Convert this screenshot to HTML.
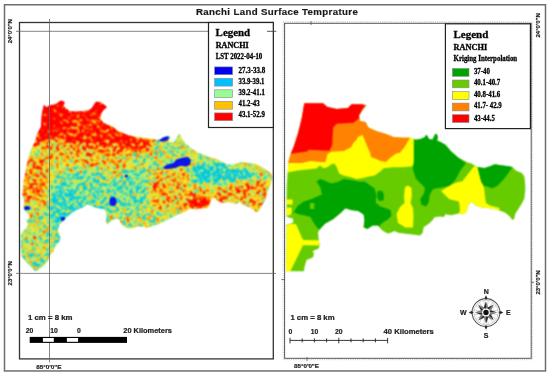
<!DOCTYPE html>
<html><head><meta charset="utf-8"><title>Ranchi Land Surface Temprature</title>
<style>
html,body{margin:0;padding:0;background:#fff;width:550px;height:377px;overflow:hidden}
svg{display:block}
.s{font-family:"Liberation Sans",Arial,sans-serif;font-weight:bold;stroke:#222;stroke-width:0.2px}
.t{font-family:"Liberation Serif","Times New Roman",serif;font-weight:bold;stroke:#000;stroke-width:0.28px}
</style></head><body>
<svg width="550" height="377" viewBox="0 0 550 377">
<rect x="0" y="0" width="550" height="377" fill="#fff"/>
<rect x="4.5" y="4.75" width="541" height="366.2" fill="none" stroke="#6e6e6e" stroke-width="1.5"/>
<text class="s" x="196" y="15.4" font-size="9.7" fill="#1a1a1a" textLength="161.8" lengthAdjust="spacing">Ranchi Land Surface Temprature</text>
<g id="leftmap">
<defs>
<clipPath id="lclip"><polygon points="43.7,105.1 45.2,105.8 46.6,107.3 49.5,105.1 53.9,104.4 56.8,103.6 59,101.5 61.2,100.4 64.1,101.5 64.8,102.9 63.4,105.8 66.3,108.7 69.9,110.9 75.7,111.6 83,110.9 88.8,110.2 91.7,108 94.6,103.6 96.1,101.5 100.5,102.2 104.8,105.1 107,107.3 103.4,110.2 101.2,113.8 100.5,118.9 103.4,122.5 107.7,124.7 112.1,126.2 116.7,129.9 124.1,133.6 133.4,136.4 140.8,137.3 148.2,138.6 155.7,139.2 159.4,140 163,137.5 168.6,135.5 170.5,137.3 168.6,142 174.2,142 177.9,135.5 179.8,133.6 181.6,138.2 185.6,143.6 191.1,148.2 198.6,152.8 207.8,156.5 217.1,159.3 226.4,164 232,164.9 237.5,163 241.2,162.1 250.5,163 256.1,164 261.6,166.7 267.2,170.5 270.9,173.2 272.8,177 271.8,180.8 270,185.4 267.2,192.8 265.3,200.3 261.6,205.8 258.8,211.4 256,212.3 253.3,209.5 248.6,206.7 243,204.9 239.4,202.1 235.7,204 228.2,202.1 222.7,203 218,201.2 214.3,197.5 211.5,199.3 209.7,204.9 207.8,207.7 202.3,208.6 194.8,209.5 189.3,208.6 185.6,211.4 181.9,213.2 179.8,213.6 175.6,215.7 167.1,220 158.6,224.2 148,227.4 137.4,226.3 135,227.8 130.6,228.5 126.3,227.8 121.9,224.9 119,219.1 114.6,219.1 111,221.3 107.4,224.2 105.2,221.3 106.6,217.6 105.9,211.8 103,208.9 97.2,208.2 91.4,206 87,204.5 82.6,207.5 75.4,210.4 69.5,214.7 65.2,219.1 60.8,223.5 59.5,224.8 57.7,230.4 59.5,234.1 60.5,237.8 59.5,241.5 57.7,243.4 54.9,247.1 54,250.8 50.2,254.5 48.4,260 44.7,264.7 40,268.5 37.3,270.6 34.5,271 31.7,267.5 26.1,262 21.5,256.4 20.6,247.1 20.6,236 22.4,231.3 26.1,228.6 28,224.8 26.1,221.1 29.8,217.4 28,213.7 24.3,210 23.5,207.3 24.5,200.9 22.4,194.5 23.5,181.8 25.6,171.2 27.7,160.6 30.5,150.5 34.8,142 37.6,132.7 40.8,127 41.5,116.7 42.3,110.9"/></clipPath>
<filter id="jet" x="10" y="80" width="275" height="205" filterUnits="userSpaceOnUse" color-interpolation-filters="sRGB">
  <feGaussianBlur in="SourceGraphic" stdDeviation="3" result="field"/>
  <feTurbulence type="fractalNoise" baseFrequency="0.3" numOctaves="3" seed="7" result="n0"/>
  <feColorMatrix in="n0" type="matrix" values="1 0 0 0 0  1 0 0 0 0  1 0 0 0 0  0 0 0 0 1" result="noise"/>
  <feComposite in="field" in2="noise" operator="arithmetic" k1="0" k2="1" k3="1.1" k4="-0.55" result="sum"/>
  <feComponentTransfer in="sum" result="col">
    <feFuncR type="discrete" tableValues="0 0 0 0 0 0 0 0.588 0.588 0.588 0.98 0.98 0.98 1 1 1 1 1 1 1"/>
    <feFuncG type="discrete" tableValues="0.784 0.784 0.784 0.784 0.784 0.784 0.784 0.941 0.941 0.941 0.902 0.902 0.902 0.627 0.627 0 0 0 0 0"/>
    <feFuncB type="discrete" tableValues="0.882 0.882 0.882 0.882 0.882 0.882 0.882 0.549 0.549 0.549 0.157 0.157 0.157 0 0 0 0 0 0 0"/>
    <feFuncA type="discrete" tableValues="1"/>
  </feComponentTransfer>
  <feConvolveMatrix in="col" order="3" kernelMatrix="1 2 1 2 4 2 1 2 1" divisor="16" edgeMode="duplicate"/>
</filter>
<filter id="soft" x="-5%" y="-5%" width="110%" height="110%" color-interpolation-filters="sRGB"><feConvolveMatrix order="3" kernelMatrix="1 2 1 2 4 2 1 2 1" divisor="16" edgeMode="none"/></filter>
<filter id="bl1" x="-20%" y="-20%" width="140%" height="140%"><feGaussianBlur stdDeviation="0.6"/></filter>
</defs>
<g filter="url(#soft)"><g clip-path="url(#lclip)">
<g filter="url(#jet)">
<rect x="10" y="80" width="275" height="205" fill="rgb(128,128,128)"/>
<polygon points="20,80 115,80 112,122 100,130 80,134 60,138 40,141 20,142" fill="rgb(236,236,236)"/>
<polygon points="72,112 112,115 128,132 150,138 152,150 140,156 115,156 95,152 75,146 60,140" fill="rgb(210,210,210)"/>
<polygon points="28,141 125,148 150,158 125,168 60,168 28,166" fill="rgb(162,162,162)"/>
<ellipse cx="36" cy="153" rx="7" ry="4" fill="rgb(115,115,115)"/>
<polygon points="18,158 48,158 50,190 47,204 18,206" fill="rgb(173,173,173)"/>
<polygon points="48,160 80,160 80,176 48,178" fill="rgb(133,133,133)"/>
<polygon points="75,170 100,169 125,170 150,170 150,200 140,215 112,218 95,214 75,218 50,222 50,180 65,177" fill="rgb(100,100,100)"/>
<ellipse cx="114" cy="175" rx="8" ry="5" fill="rgb(153,153,153)"/>
<polygon points="125,153 165,150 190,150 205,158 200,166 160,168 130,166" fill="rgb(122,122,122)"/>
<polygon points="150,170 190,168 190,211 150,212" fill="rgb(158,158,158)"/>
<ellipse cx="157" cy="188.5" rx="6" ry="3" fill="rgb(217,217,217)"/>
<polygon points="110,212 175,210 175,232 110,232" fill="rgb(128,128,128)"/>
<polygon points="182,143 205,150 205,166 185,166" fill="rgb(128,128,128)"/>
<polygon points="192,166 220,163 253,166 253,186 220,187 192,184" fill="rgb(68,68,68)"/>
<polygon points="229,160 275,162 275,170 229,168" fill="rgb(140,140,140)"/>
<polygon points="253,169 275,170 275,181 253,181" fill="rgb(120,120,120)"/>
<polygon points="185,184 275,182 275,200 185,200" fill="rgb(156,156,156)"/>
<polygon points="235,180 265,181 265,192 235,192" fill="rgb(178,178,178)"/>
<polygon points="215,192 275,192 275,215 215,215" fill="rgb(158,158,158)"/>
<ellipse cx="199" cy="204" rx="12" ry="6" fill="rgb(235,235,235)"/>
<ellipse cx="221" cy="200" rx="6" ry="4" fill="rgb(214,214,214)"/>
<polygon points="18,190 47,190 47,203 18,203" fill="rgb(173,173,173)"/>
<polygon points="48,188 80,188 80,224 60,226 48,222" fill="rgb(84,84,84)"/>
<polygon points="18,203 49,203 49,235 18,235" fill="rgb(130,130,130)"/>
<polygon points="18,235 48,235 48,262 18,262" fill="rgb(126,126,126)"/>
<polygon points="49,224 65,224 65,248 49,248" fill="rgb(107,107,107)"/>
<polygon points="25,261 46,258 46,275 25,275" fill="rgb(104,104,104)"/>
</g>
<!-- blue blobs -->
<g fill="#0a14e6" filter="url(#bl1)">
<polygon points="163.3,167.3 167.7,164.4 173.5,162.9 176.4,159.4 182.3,157.7 188.1,157.1 191,160 190.1,164.4 186.6,166.4 180.8,165.8 175,168.1 169.2,168.7 164.8,169.3"/>
<polygon points="157.5,138.1 160.4,136.7 166.2,136.1 169.2,137.2 167.7,140.2 163.3,141.6 159,141"/>
<ellipse cx="113" cy="201.5" rx="3.5" ry="4.5"/>
<ellipse cx="126.3" cy="176" rx="1.6" ry="1.6"/>
<ellipse cx="27" cy="208" rx="3" ry="2"/>
<ellipse cx="63" cy="219" rx="2.5" ry="2"/>
</g>
</g>
</g></g>


<rect x="19.5" y="22.5" width="253.8" height="336.4" fill="none" stroke="#333" stroke-width="1.3"/>
<g stroke="#666" stroke-width="0.8"><line x1="49.5" y1="19" x2="49.5" y2="362.5"/><line x1="16" y1="31.3" x2="208.5" y2="31.3"/><line x1="16" y1="273.4" x2="276" y2="273.4"/></g>
<text class="s" font-size="6.2" fill="#222" transform="translate(12.4,31.2) rotate(-90)" text-anchor="middle" textLength="24.2" lengthAdjust="spacingAndGlyphs">24°0'0"N</text>
<text class="s" font-size="6.2" fill="#222" transform="translate(12.4,273.3) rotate(-90)" text-anchor="middle" textLength="24.2" lengthAdjust="spacingAndGlyphs">23°0'0"N</text>
<text class="s" x="48.85" y="368.6" font-size="6.2" fill="#222" text-anchor="middle" textLength="25.4" lengthAdjust="spacingAndGlyphs">85°0'0"E</text>
<rect x="208.5" y="22.5" width="64.8" height="105" fill="#fff" stroke="#222" stroke-width="1.2"/>
<line x1="267" y1="31.3" x2="276.3" y2="31.3" stroke="#444" stroke-width="0.9"/>
<text class="t" x="215.6" y="36.0" font-size="10.8" fill="#000" textLength="34.6" lengthAdjust="spacingAndGlyphs">Legend</text>
<text class="t" x="215.7" y="48.0" font-size="7.8" fill="#000" textLength="33.0" lengthAdjust="spacingAndGlyphs">RANCHI</text>
<text class="t" x="215.7" y="58.7" font-size="7.35" fill="#000" textLength="46.6" lengthAdjust="spacingAndGlyphs">LST 2022-04-10</text>
<g stroke="#8a8a8a" stroke-width="0.6"><rect x="214.6" y="66.9" width="18" height="7.8" fill="#0000f0"/><rect x="214.6" y="78.3" width="18" height="7.8" fill="#00bfff"/><rect x="214.6" y="89.8" width="18" height="7.8" fill="#98fb98"/><rect x="214.6" y="101.4" width="18" height="7.8" fill="#ffc000"/><rect x="214.6" y="112.9" width="18" height="7.8" fill="#ff0000"/></g>
<text class="t" x="238.5" y="72.8" font-size="7.4" fill="#000" textLength="26.8" lengthAdjust="spacingAndGlyphs">27.3-33.8</text>
<text class="t" x="238.5" y="83.9" font-size="7.4" fill="#000" textLength="26.0" lengthAdjust="spacingAndGlyphs">33.9-39.1</text>
<text class="t" x="238.5" y="95.0" font-size="7.4" fill="#000" textLength="26.4" lengthAdjust="spacingAndGlyphs">39.2-41.1</text>
<text class="t" x="238.5" y="106.2" font-size="7.4" fill="#000" textLength="21.2" lengthAdjust="spacingAndGlyphs">41.2-43</text>
<text class="t" x="238.5" y="117.3" font-size="7.4" fill="#000" textLength="26.4" lengthAdjust="spacingAndGlyphs">43.1-52.9</text>
<text class="s" x="28.0" y="319.6" font-size="6.8" fill="#222" textLength="44.5" lengthAdjust="spacingAndGlyphs">1 cm = 8 km</text>
<text class="s" x="29.5" y="333.1" font-size="6.8" fill="#222" text-anchor="middle">20</text>
<text class="s" x="54.0" y="333.1" font-size="6.8" fill="#222" text-anchor="middle">10</text>
<text class="s" x="78.8" y="333.1" font-size="6.8" fill="#222" text-anchor="middle">0</text>
<text class="s" x="123.3" y="333.1" font-size="6.8" fill="#222" textLength="48.6" lengthAdjust="spacingAndGlyphs">20 Kilometers</text>
<rect x="29.7" y="336.9" width="97.3" height="6.0" fill="#000"/>
<rect x="42.9" y="338.0" width="10.9" height="3.8" fill="#fff"/>
<rect x="66.9" y="338.0" width="11.2" height="3.8" fill="#fff"/>
<g id="rightmap">
<defs>
<clipPath id="rclip"><polygon points="304.3,103.3 310.8,103.3 322.9,103.3 327.5,107.1 336.8,108.9 348,108 351.6,104.3 361,104.3 366.5,105.2 362.8,109.8 359.1,115.4 360,121 365.6,122 368.3,127.6 376.7,131.3 386,134.1 393.4,136.9 402.7,137.8 410.1,137.8 415.7,139.7 421.2,138.8 424.9,136.9 425.9,135 427.7,136 428.6,138.8 432.4,139.7 434.2,136 435.1,134.1 437,134.1 437.9,137.8 437,140.6 441.6,142.5 445.6,144.8 451.1,151.3 458.6,157.8 467.8,162.5 471.5,163.4 477.1,167.1 484.5,168 490.1,166.2 494.7,164.3 501.2,165.3 508.6,166.2 512.4,167.1 516.1,170.8 521.6,172.7 524.4,176.4 525.3,185.7 525.3,189.3 524.4,198.6 521.6,204.1 517.9,209.7 515.1,214.3 514.2,219 512.4,219.9 509.6,216.2 504.9,212.5 499.4,210.6 495.7,209.2 488,208 481.5,207.6 475.5,205.5 472,201.8 468.8,204.1 466,212.8 462.3,214.3 458.6,213.4 451.1,215.2 445.6,214.3 443.7,217.1 440,216.4 434.5,217.3 432.7,220 429.1,223.6 423.6,227.3 422.7,232.7 420,235.5 412.7,234.5 403.6,233.6 398.2,232.7 394.5,230.9 390.9,232.7 387.3,233.6 381.8,230 378.2,225.5 372.7,225.5 367.3,229.1 363.6,227.3 364.5,220 363.6,214.5 358.2,210.9 350.9,210 345.5,208.2 340,213.6 333,219.2 325.3,223.5 320.9,227.9 318,232.3 318.7,239.6 319.2,242.7 319.8,245.3 318.5,248.6 312.5,251.3 313.9,253.3 313.2,257.3 306.6,260 304.6,266.6 303.9,271.2 286,271.2 286.6,245 286.6,225 293.5,222.5 293,218.5 286.6,216.5 286.6,200 286.7,187.1 287.6,172.3 288.6,161.1 290.6,154 293.6,147 297.8,134 301.6,119.1"/></clipPath>
</defs>
<g filter="url(#soft)"><g clip-path="url(#rclip)">
<rect x="283" y="98" width="245" height="176" fill="#66cc00"/>
<!-- yellow 1 -->
<polygon fill="#ffff00" points="283,135 416,125 414.5,164.5 410.9,166.4 401.8,167.3 392.7,167.3 383.6,168.2 380,171.8 374.5,175.5 369.1,176.4 361.8,178.2 356.4,179.1 350.9,177.3 343.6,175.5 339.1,173.6 337.3,168.2 334.5,163.6 330.9,164.5 327.3,167.3 323.6,168.2 320,165.5 316.4,168.6 307.1,169.5 297.8,170.4 288.6,172.3 283,172.3"/>
<!-- orange -->
<polygon fill="#ff8200" points="283,95 416,95 410,137.8 404.5,147.1 399.9,152.7 396.2,153.6 393.4,155.5 389.7,158.2 386,162 380.4,161 374.8,158.2 371.1,157.3 370.2,152.7 367.4,147.1 364.5,139.5 362.5,135 358.1,136.7 356.4,140 353.6,142.7 351,147.3 343.6,150.9 331,151.8 327.3,154.5 325.5,162 320.1,162 310.8,161.1 301.6,163 290.4,163 283,163"/>
<!-- red -->
<polygon fill="#ff0000" points="283,95 372,95 362,109.8 359.1,115.4 359.1,118.2 353.5,122.8 336.8,123.8 333.1,127.5 332.2,145.1 329.4,150.7 309,149.7 307.1,151.6 292.3,153.4 283,153.4"/>
<!-- yellow 2 (right) -->
<polygon fill="#ffff00" points="474.4,165.8 478,168.2 480.3,177.7 484,187.3 485,196.8 486,203 490,205.5 495,206.8 499.5,208 499.5,214 458,214 460,211 459.5,205 458.9,201.6 449.3,199.2 441,190.9 449,186 456.5,182.5 462.4,181.3 468,174"/>
<!-- yellow small patches -->
<polygon fill="#ffff00" points="405,187 408,185.5 411.5,188 411.8,196 410.5,203 413,208 413.5,216 413,227.6 405.5,227.6 398,223 396.5,214 400,207 404.5,203 404,196"/>
<polygon fill="#00a400" points="377.5,191 382,190.5 384,195 383.5,200.5 379,201 377,197"/>
<polygon fill="#ffff00" points="283,199.5 292.5,199.5 292.5,204.6 283,204.6"/>
<polygon fill="#ffff00" points="283,207.5 291.7,207.5 291.7,215.5 283,215.5"/>
<polygon fill="#ffff00" points="283,224 296,224 302,238 303.5,240 319.5,240.3 320,245.5 303,245.3 290,272 283,272"/>
<!-- dark green 1 -->
<polygon fill="#00a400" points="413.8,130 440,130 441.6,142.5 445.6,144.8 451.1,151.3 458.6,157.8 466,163.4 461,169.5 455.3,180.1 449.3,186.1 442,187.6 435,188.5 437.9,187.8 432.4,189.7 429.6,195.3 428.6,202.7 425.9,206.4 421.2,204.5 420.3,199 424,193.4 424.9,187.8 421.2,184.1 415.7,178.6 412.9,169.3 413.8,160 413.8,147.1"/>
<!-- dark green 2 -->
<polygon fill="#00a400" points="477.1,160 512.4,160 512.4,167.1 508.6,172.7 503.1,180.1 497.5,185.7 491.9,188.4 486.4,186 484.3,186.8 481.2,182.1 479.6,175.7 478,169.3"/>
<!-- dark green 3 (big left-center) -->
<polygon fill="#00a400" points="283,218 288.6,216.8 292.3,213.1 294.7,210.4 297.6,206 303.4,201.7 312.2,198.7 318.3,196 322,194.5 320.1,187.1 316.4,181.5 320,179 325.5,181 331,183.6 338.2,181.8 343.6,179 351,180 360,181.8 364.6,181.5 369,184.5 374.5,188.2 376.4,195 375.8,202.7 380.4,206.4 386,208.2 390.6,210.1 391.5,215.7 387.8,219.4 382.3,223.1 380,225 379,232 340,232 320.2,229.4 318,228.6 315.1,225 312.2,220.6 310.7,217 304.9,215.5 297.6,214 294,212 290,216 286,220"/>
<!-- light green patches in DG3 -->
<polygon fill="#66cc00" points="310,203 314.3,203 314.3,209 310,209"/>
<polygon fill="#66cc00" points="286,216 293,218 294,222 286,226"/>
</g>
</g></g>


<rect x="283.2" y="21.9" width="249.1" height="337.8" fill="none" stroke="#bbb" stroke-width="0.9" stroke-dasharray="1 1.2"/>
<rect x="284.6" y="23.3" width="246.6" height="335.0" fill="none" stroke="#555" stroke-width="1"/>
<g stroke="#555" stroke-width="0.8"><line x1="311" y1="21" x2="311" y2="25"/><line x1="307" y1="357" x2="307" y2="361"/><line x1="281.3" y1="279.6" x2="284.6" y2="279.6"/><line x1="531.5" y1="282.3" x2="534" y2="282.3"/></g>
<text class="s" font-size="6.2" fill="#222" transform="translate(540.3,25.4) rotate(-90)" text-anchor="middle" textLength="24.2" lengthAdjust="spacingAndGlyphs">24°0'0"N</text>
<text class="s" font-size="6.2" fill="#222" transform="translate(540.3,282.5) rotate(-90)" text-anchor="middle" textLength="24.2" lengthAdjust="spacingAndGlyphs">23°0'0"N</text>
<text class="s" x="306.5" y="367.8" font-size="6.2" fill="#222" text-anchor="middle" textLength="25.0" lengthAdjust="spacingAndGlyphs">85°0'0"E</text>
<rect x="445.4" y="23.8" width="85" height="104.8" fill="#fff" stroke="#222" stroke-width="1.2"/>
<text class="t" x="453.5" y="38.3" font-size="10.8" fill="#000" textLength="34.8" lengthAdjust="spacingAndGlyphs">Legend</text>
<text class="t" x="453.6" y="49.7" font-size="7.8" fill="#000" textLength="33.6" lengthAdjust="spacingAndGlyphs">RANCHI</text>
<text class="t" x="453.6" y="60.9" font-size="7.35" fill="#000" textLength="63.6" lengthAdjust="spacingAndGlyphs">Kriging Interpolation</text>
<g stroke="#8a8a8a" stroke-width="0.6"><rect x="452.4" y="68.5" width="16.6" height="7.8" fill="#00a400"/><rect x="452.4" y="80.0" width="16.6" height="7.8" fill="#66cc00"/><rect x="452.4" y="91.6" width="16.6" height="7.8" fill="#ffff00"/><rect x="452.4" y="103.1" width="16.6" height="7.8" fill="#ff8200"/><rect x="452.4" y="114.7" width="16.6" height="7.8" fill="#ff0000"/></g>
<text class="t" x="473.9" y="73.5" font-size="7.35" fill="#000" textLength="16.0" lengthAdjust="spacingAndGlyphs">37-40</text>
<text class="t" x="473.9" y="85.1" font-size="7.35" fill="#000" textLength="26.4" lengthAdjust="spacingAndGlyphs">40.1-40.7</text>
<text class="t" x="473.9" y="96.6" font-size="7.35" fill="#000" textLength="26.4" lengthAdjust="spacingAndGlyphs">40.8-41.6</text>
<text class="t" x="473.9" y="108.4" font-size="7.35" fill="#000" textLength="27.8" lengthAdjust="spacingAndGlyphs">41.7- 42.9</text>
<text class="t" x="473.9" y="120.8" font-size="7.35" fill="#000" textLength="21.0" lengthAdjust="spacingAndGlyphs">43-44.5</text>
<text class="s" x="290.4" y="319.5" font-size="6.8" fill="#222" textLength="44.2" lengthAdjust="spacingAndGlyphs">1 cm = 8 km</text>
<text class="s" x="290.5" y="334" font-size="6.8" fill="#222" text-anchor="middle">0</text>
<text class="s" x="314.6" y="334" font-size="6.8" fill="#222" text-anchor="middle">10</text>
<text class="s" x="338.8" y="334" font-size="6.8" fill="#222" text-anchor="middle">20</text>
<text class="s" x="383.6" y="334" font-size="6.8" fill="#222" textLength="50.2" lengthAdjust="spacingAndGlyphs">40 Kilometers</text>
<g stroke="#222" stroke-width="0.9"><line x1="290" y1="340.4" x2="387.6" y2="340.4"/><line x1="290" y1="337.8" x2="290" y2="343.4"/><line x1="302.2" y1="338.4" x2="302.2" y2="342.4"/><line x1="314.4" y1="338.4" x2="314.4" y2="342.4"/><line x1="326.6" y1="338.4" x2="326.6" y2="342.4"/><line x1="338.8" y1="337.8" x2="338.8" y2="343.4"/><line x1="351" y1="338.4" x2="351" y2="342.4"/><line x1="363.2" y1="338.4" x2="363.2" y2="342.4"/><line x1="375.4" y1="338.4" x2="375.4" y2="342.4"/><line x1="387.6" y1="337.8" x2="387.6" y2="343.4"/></g>
<circle cx="486.0" cy="312.5" r="13.9" fill="#fff" stroke="#5a5a5a" stroke-width="1.1"/>
<circle cx="486.0" cy="312.5" r="12.3" fill="none" stroke="#b0b0b0" stroke-width="0.6"/>
<line x1="486.78" y1="308.58" x2="488.34" y2="300.73" stroke="#9a9a9a" stroke-width="0.45"/>
<line x1="488.22" y1="309.17" x2="492.67" y2="302.52" stroke="#9a9a9a" stroke-width="0.45"/>
<line x1="489.33" y1="310.28" x2="495.98" y2="305.83" stroke="#9a9a9a" stroke-width="0.45"/>
<line x1="489.92" y1="311.72" x2="497.77" y2="310.16" stroke="#9a9a9a" stroke-width="0.45"/>
<line x1="489.92" y1="313.28" x2="497.77" y2="314.84" stroke="#9a9a9a" stroke-width="0.45"/>
<line x1="489.33" y1="314.72" x2="495.98" y2="319.17" stroke="#9a9a9a" stroke-width="0.45"/>
<line x1="488.22" y1="315.83" x2="492.67" y2="322.48" stroke="#9a9a9a" stroke-width="0.45"/>
<line x1="486.78" y1="316.42" x2="488.34" y2="324.27" stroke="#9a9a9a" stroke-width="0.45"/>
<line x1="485.22" y1="316.42" x2="483.66" y2="324.27" stroke="#9a9a9a" stroke-width="0.45"/>
<line x1="483.78" y1="315.83" x2="479.33" y2="322.48" stroke="#9a9a9a" stroke-width="0.45"/>
<line x1="482.67" y1="314.72" x2="476.02" y2="319.17" stroke="#9a9a9a" stroke-width="0.45"/>
<line x1="482.08" y1="313.28" x2="474.23" y2="314.84" stroke="#9a9a9a" stroke-width="0.45"/>
<line x1="482.08" y1="311.72" x2="474.23" y2="310.16" stroke="#9a9a9a" stroke-width="0.45"/>
<line x1="482.67" y1="310.28" x2="476.02" y2="305.83" stroke="#9a9a9a" stroke-width="0.45"/>
<line x1="483.78" y1="309.17" x2="479.33" y2="302.52" stroke="#9a9a9a" stroke-width="0.45"/>
<line x1="485.22" y1="308.58" x2="483.66" y2="300.73" stroke="#9a9a9a" stroke-width="0.45"/>
<polygon points="486.00,301.30 483.86,307.33 486.00,312.50" fill="#2a2a2a"/>
<polygon points="486.00,301.30 488.14,307.33 486.00,312.50" fill="#7a7a7a"/>
<polygon points="493.92,304.58 488.14,307.33 486.00,312.50" fill="#2a2a2a"/>
<polygon points="493.92,304.58 491.17,310.36 486.00,312.50" fill="#7a7a7a"/>
<polygon points="497.20,312.50 491.17,310.36 486.00,312.50" fill="#2a2a2a"/>
<polygon points="497.20,312.50 491.17,314.64 486.00,312.50" fill="#7a7a7a"/>
<polygon points="493.92,320.42 491.17,314.64 486.00,312.50" fill="#2a2a2a"/>
<polygon points="493.92,320.42 488.14,317.67 486.00,312.50" fill="#7a7a7a"/>
<polygon points="486.00,323.70 488.14,317.67 486.00,312.50" fill="#2a2a2a"/>
<polygon points="486.00,323.70 483.86,317.67 486.00,312.50" fill="#7a7a7a"/>
<polygon points="478.08,320.42 483.86,317.67 486.00,312.50" fill="#2a2a2a"/>
<polygon points="478.08,320.42 480.83,314.64 486.00,312.50" fill="#7a7a7a"/>
<polygon points="474.80,312.50 480.83,314.64 486.00,312.50" fill="#2a2a2a"/>
<polygon points="474.80,312.50 480.83,310.36 486.00,312.50" fill="#7a7a7a"/>
<polygon points="478.08,304.58 480.83,310.36 486.00,312.50" fill="#2a2a2a"/>
<polygon points="478.08,304.58 483.86,307.33 486.00,312.50" fill="#7a7a7a"/>
<polygon points="486.00,295.20 487.40,297.90 486.00,300.00 484.60,297.90" fill="#2a2a2a"/>
<polygon points="503.30,312.50 500.60,313.90 498.50,312.50 500.60,311.10" fill="#2a2a2a"/>
<polygon points="486.00,329.80 484.60,327.10 486.00,325.00 487.40,327.10" fill="#2a2a2a"/>
<polygon points="468.70,312.50 471.40,311.10 473.50,312.50 471.40,313.90" fill="#2a2a2a"/>
<circle cx="486.0" cy="312.5" r="3.9" fill="#fff"/>
<circle cx="486.0" cy="312.5" r="2.7" fill="#111"/>
<text class="s" x="486.2" y="294.0" font-size="7" fill="#222" text-anchor="middle">N</text>
<text class="s" x="486.0" y="338.0" font-size="7" fill="#222" text-anchor="middle">S</text>
<text class="s" x="463.2" y="315.0" font-size="7" fill="#222" text-anchor="middle">W</text>
<text class="s" x="508.4" y="315.0" font-size="7" fill="#222" text-anchor="middle">E</text>
</svg>
</body></html>
